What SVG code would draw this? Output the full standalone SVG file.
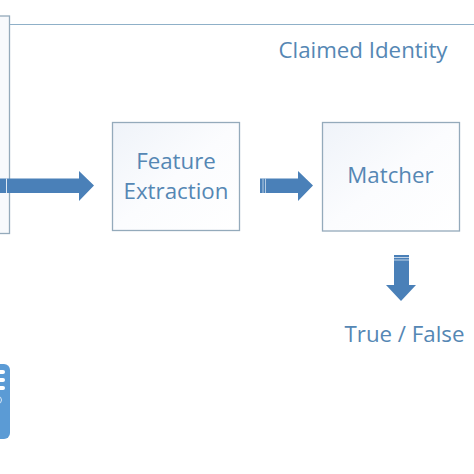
<svg xmlns="http://www.w3.org/2000/svg" width="474" height="474" viewBox="0 0 474 474">
<style>
.box{stroke:#94aabb;stroke-width:1.3}
.t{font-family:"Open Sans","Liberation Sans",sans-serif;font-size:22.300px;fill:#5587b4;text-anchor:middle}
.a{fill:#4a80b8}
</style>
<defs>
<linearGradient id="g" x1="0" y1="0" x2="1" y2="1"><stop offset="0" stop-color="#eff3f9"/><stop offset="0.5" stop-color="#fbfcfe"/><stop offset="1" stop-color="#ffffff"/></linearGradient>
</defs>
<rect width="474" height="474" fill="#fff"/>
<g id="left-box"><rect class="box" x="-10" y="16" width="19.500" height="217.500" fill="#f7f9fc"/></g>
<g id="connectors">
<line x1="10" y1="24.500" x2="474" y2="24.500" stroke="#8fb0c8" stroke-width="1.200"/>
<g id="arrow1">
<path class="a" d="M0 178.500H79V171L94 185.500L79 201V193H0Z"/>
<path d="M6.500 178.500V193" stroke="#dfe9f3" stroke-width="1" fill="none"/>
</g>
<g id="arrow2">
<path class="a" d="M260 178.500H298V171L313 185.500L298 201V193H260Z"/>
<path d="M263 178.500V193M265.500 178.500V193" stroke="#cfdeec" stroke-width="0.800" fill="none"/>
</g>
<g id="arrow3">
<path class="a" d="M394 255H409V285H416L401 301L386 285H394Z"/>
<path d="M394 257.500H409M394 260H409" stroke="#dfe9f3" stroke-width="0.800" fill="none"/>
</g>
</g>
<g id="feature-extraction">
<rect class="box" x="112.500" y="122.500" width="127" height="108" fill="url(#g)"/>
<text class="t" x="176" y="169">Feature</text>
<text class="t" x="176" y="199">Extraction</text>
</g>
<g id="matcher">
<rect class="box" x="322.500" y="122.500" width="137" height="108.500" fill="url(#g)"/>
<text class="t" x="390.500" y="183">Matcher</text>
</g>
<g id="claimed-identity"><text class="t" x="363" y="58">Claimed Identity</text></g>
<g id="true-false"><text class="t" x="404.500" y="342">True / False</text></g>
<g id="device">
<rect x="-14" y="364" width="24" height="75" rx="6" fill="#5b9bd5"/>
<rect x="-6" y="370" width="11" height="4" rx="2" fill="#fff"/>
<rect x="-6" y="378" width="11" height="4" rx="2" fill="#fff"/>
<rect x="-6" y="386" width="11" height="4" rx="2" fill="#fff"/>
<circle cx="-2" cy="400" r="3.500" fill="none" stroke="#dbe8f5" stroke-width="1"/>
</g>
</svg>
